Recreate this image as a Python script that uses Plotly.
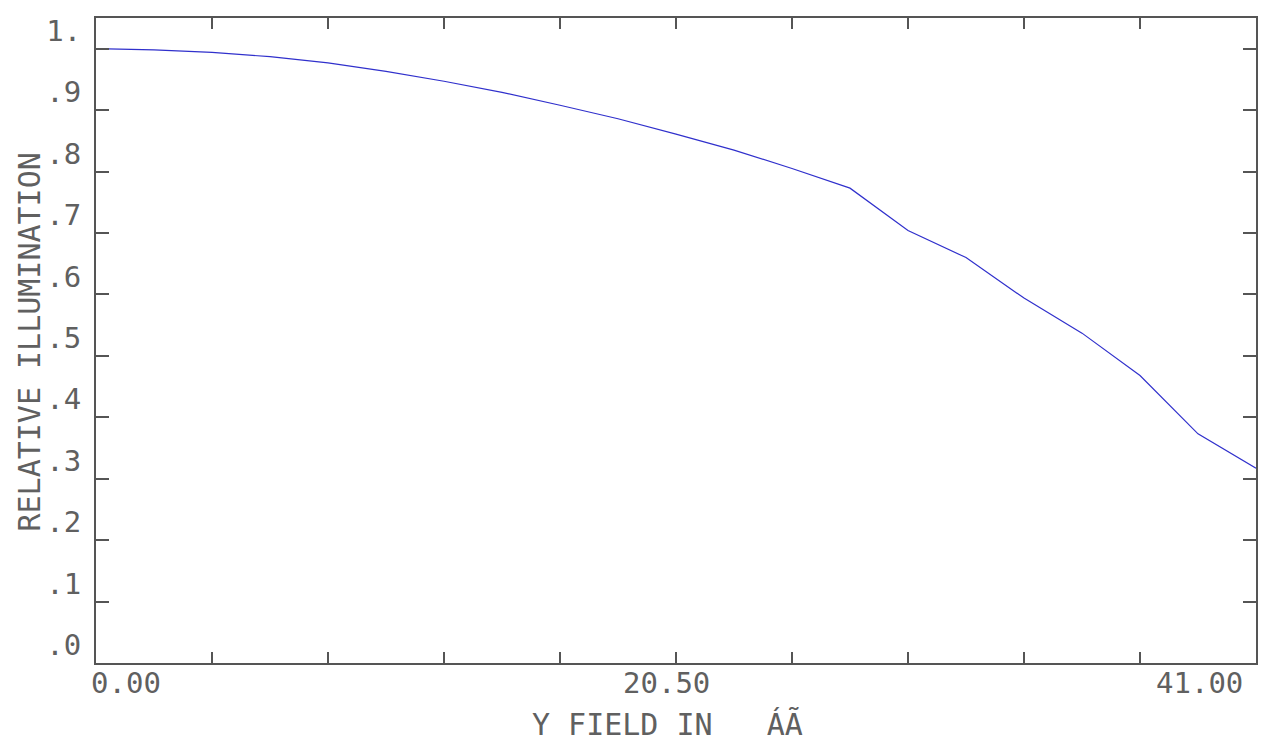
import plotly.graph_objects as go

# Data
field = [0.0, 2.05, 4.1, 6.15, 8.2, 10.25, 12.3, 14.35, 16.4, 18.45, 20.5,
         22.55, 24.6, 26.65, 28.7, 30.75, 32.8, 34.85, 36.9, 38.95, 41.0]
illum = [1.000, 0.998, 0.994, 0.987, 0.977, 0.963, 0.947, 0.929, 0.908, 0.886, 0.861,
         0.835, 0.805, 0.773, 0.704, 0.660, 0.594, 0.537, 0.468, 0.373, 0.317]

y_tickvals = [0.0, 0.1, 0.2, 0.3, 0.4, 0.5, 0.6, 0.7, 0.8, 0.9, 1.0]
y_ticktext = [".0", ".1", ".2", ".3", ".4", ".5", ".6", ".7", ".8", ".9", "1."]
x_tickvals = [0, 4.1, 8.2, 12.3, 16.4, 20.5, 24.6, 28.7, 32.8, 36.9, 41]
x_labels = [(0.0, "0.00"), (20.5, "20.50"), (41.0, "41.00")]

FONT = "DejaVu Sans Mono"
TXT = "#606060"
AX = "#555555"
FS = 29
FT = 30

fig = go.Figure()
fig.add_trace(go.Scatter(x=field, y=illum, mode="lines",
                         line=dict(color="#3030cc", width=1.2),
                         showlegend=False, hoverinfo="skip"))

# page body has an 8px margin, so the figure is offset by (8, 8)
fig.update_layout(
    width=1273, height=748,
    margin=dict(l=88, r=25, t=10, b=93, autoexpand=False),
    paper_bgcolor="white", plot_bgcolor="white",
    font=dict(family=FONT, size=FS, color=TXT),
)
fig.update_xaxes(range=[0, 41], tickmode="array", tickvals=x_tickvals,
                 showticklabels=False, ticks="inside", ticklen=11, tickwidth=1.5,
                 tickcolor=AX, showline=True, linecolor=AX, linewidth=2,
                 mirror="ticks", showgrid=False, zeroline=False, automargin=False)
fig.update_yaxes(range=[0, 1.05], tickmode="array", tickvals=y_tickvals,
                 ticktext=y_ticktext, ticks="inside", ticklen=13, tickwidth=1.5,
                 tickcolor=AX, showline=True, linecolor=AX, linewidth=2,
                 mirror="ticks", showgrid=False, zeroline=False, automargin=False,
                 ticklabelshift=-18, ticklabelstandoff=7,
                 tickfont=dict(family=FONT, size=FS, color=TXT))

anchors = ["left", "center", "right"]
shifts = [-7, -10, -11]
for (xv, lab), anc, sh in zip(x_labels, anchors, shifts):
    fig.add_annotation(x=xv, y=0, xref="x", yref="paper", text=lab,
                       showarrow=False, xanchor=anc, yanchor="top",
                       xshift=sh, yshift=-1,
                       font=dict(family=FONT, size=FS, color=TXT))

fig.add_annotation(x=0.5, y=0, xref="paper", yref="paper",
                   text="Y FIELD IN\u00a0\u00a0\u00a0ÁÃ", showarrow=False,
                   xanchor="center", yanchor="top", xshift=-9, yshift=-42,
                   font=dict(family=FONT, size=FT, color=TXT))
fig.add_annotation(x=0, y=0.5, xref="paper", yref="paper",
                   text="RELATIVE ILLUMINATION", showarrow=False,
                   textangle=-90, xanchor="center", yanchor="middle",
                   xshift=-67, yshift=-2,
                   font=dict(family=FONT, size=FT, color=TXT))

fig.write_html("out.html")
